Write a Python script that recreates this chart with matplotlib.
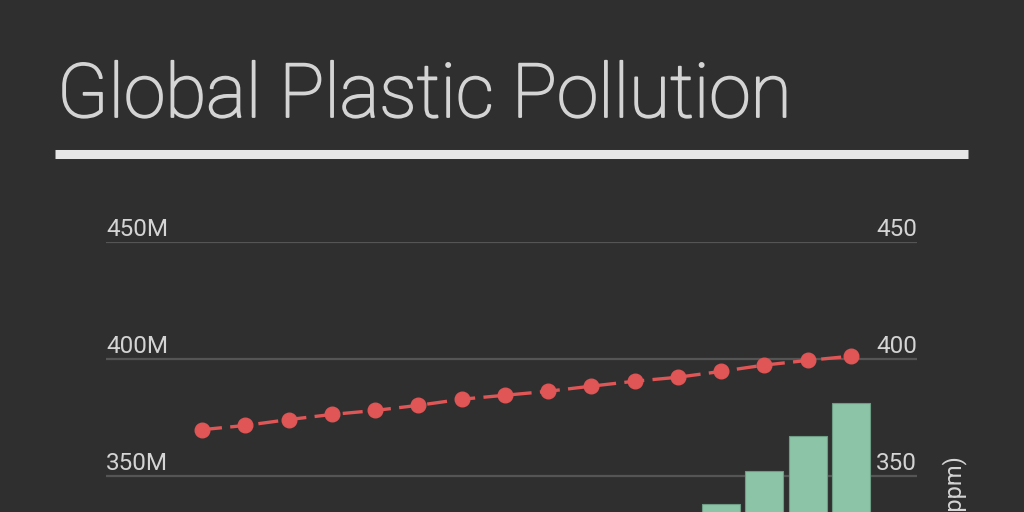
import numpy as np
import matplotlib
matplotlib.use('Agg')
import matplotlib.pyplot as plt
import matplotlib.transforms as mtransforms
import matplotlib.patheffects as pe

plt.rcParams['font.family'] = ['Roboto', 'DejaVu Sans']

# --- data ---------------------------------------------------------------
years = np.arange(2000, 2016)
plastic_mt = [213, 218, 231, 241, 256, 263, 280, 295, 281, 288,
              313, 325, 338, 352, 367, 381]          # million tonnes
co2_ppm = [369.8, 371.6, 374.1, 376.3, 378.0, 380.2, 382.8, 384.5,
           386.2, 388.4, 390.5, 392.2, 394.7, 397.4, 399.4, 401.2]
y_ticks = [0, 50, 100, 150, 200, 250, 300, 350, 400, 450]
left_labels = [f'{v}M' for v in y_ticks]
right_labels = [f'{v}' for v in y_ticks]
title = 'Global Plastic Pollution'
right_label = 'Atmospheric CO\u2082 (ppm)'

BG = '#2f2f2f'
TXT = '#d4d4d4'
GRID = '#555555'
BAR = '#8cc4a7'
LINE = '#e05555'

W, H = 1024, 512
fig = plt.figure(figsize=(W / 100, H / 100), dpi=100, facecolor=BG)

# axes placed in pixel terms: x 106..917, top at 242 (=450); the lower part runs off the figure
px_per_unit = 2.34
ax_top = 242
ax_bot = ax_top + 450 * px_per_unit
ax = fig.add_axes([106 / W, (H - ax_bot) / H, (917 - 106) / W, (ax_bot - ax_top) / H])
ax.set_facecolor('none')
ax.set_xlim(1997.78, 2016.53)
ax.set_ylim(0, 450)

ax.bar(years, plastic_mt, width=0.88, color=BAR, edgecolor='#6e9d86', lw=0.8, zorder=2)
ax.set_yticks(y_ticks)
ax.yaxis.grid(True, color=GRID, lw=1.6, zorder=0)
ax.set_axisbelow(True)

ax2 = ax.twinx()
ax2.set_ylim(0, 450)
ax2.set_xlim(ax.get_xlim())
ax2.plot(years, co2_ppm, color=LINE, lw=2.4, dashes=(6, 2.5),
         marker='o', ms=10.5, mec=LINE, mfc=LINE, zorder=3)
ax2.set_yticks([])

# twinx resets tick visibility, so clear ticks afterwards
for a in (ax, ax2):
    a.tick_params(left=False, right=False, bottom=False, top=False,
                  labelleft=False, labelright=False, labelbottom=False)
    for s in a.spines.values():
        s.set_visible(False)

# tick labels sitting just above the gridlines
trans = mtransforms.blended_transform_factory(ax.transAxes, ax.transData)
off = mtransforms.offset_copy(trans, fig=fig, x=0, y=6, units='dots')
for v, ll, rl in zip(y_ticks, left_labels, right_labels):
    ax.text(0, v, ll, transform=off, ha='left', va='baseline', fontsize=17.5, color=TXT)
    ax.text(1, v, rl, transform=off, ha='right', va='baseline', fontsize=17.5, color=TXT)

fig.text(955 / W, (H - 456) / H, right_label, rotation=90, ha='center', va='top',
         fontsize=17, color=TXT)

# title (light face, thickened a touch) and rule
fig.text(57 / W, (H - 117) / H, title, ha='left', va='baseline', fontsize=54,
         weight='light', color=TXT,
         path_effects=[pe.withStroke(linewidth=1.3, foreground=TXT)])
fig.add_artist(plt.Line2D([55 / W, 968 / W], [(H - 153.5) / H] * 2, color='#e6e6e6',
                          lw=6.5, solid_capstyle='butt'))

fig.savefig('out.png', dpi=100, facecolor=BG)
